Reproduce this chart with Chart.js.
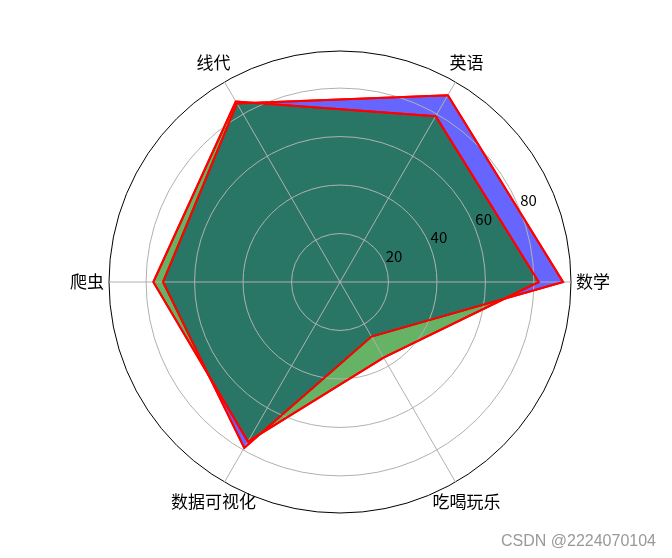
<!DOCTYPE html>
<html>
<head>
<meta charset="utf-8">
<script src="https://cdn.jsdelivr.net/npm/chart.js@4.4.0/dist/chart.umd.min.js"></script>
<style>
  html, body { margin: 0; padding: 0; background: #fff; }
  #wrap { position: relative; width: 672px; height: 558px; }
  #mark { position: absolute; right: 16px; top: 532px; font: 16px "Liberation Sans", sans-serif; color: #999; }
</style>
</head>
<body>
<div id="wrap">
  <canvas id="radar"></canvas>
  <div id="mark">CSDN @2224070104</div>
</div>
<script>
// Subjects in the order they go round the chart (counter-clockwise, starting on the right)
const categories = ['数学', '英语', '线代', '爬虫', '数据可视化', '吃喝玩乐'];
const scoresBlue = [92, 89, 85, 73, 79, 26];
const scoresGreen = [82, 79, 86, 77, 76, 36];
const tickValues = [20, 40, 60, 80];
const radiusMax = 95.3;

// Chart.js walks clockwise, so keep the first item and flip the rest
const clockwise = arr => [arr[0]].concat(arr.slice(1).reverse());

const CJK = '"Noto Sans CJK SC", "Noto Sans", sans-serif';

// Category names, r tick labels and the red outlines on top of the grid
const overlay = {
    id: 'overlay',
    afterDraw(chart) {
        const ctx = chart.ctx;
        const scale = chart.scales.r;
        ctx.save();

        // stroke the outlines again so the grid sits under them
        chart.getSortedVisibleDatasetMetas().slice().reverse().forEach(meta => {
            meta.dataset.draw(ctx, chart.chartArea);
        });

        // category labels, centred a bit outside the frame
        ctx.fillStyle = '#000';
        ctx.font = '17px ' + CJK;
        ctx.textAlign = 'center';
        ctx.textBaseline = 'middle';
        chart.data.labels.forEach((label, i) => {
            const p = scale.getPointPosition(i, scale.drawingArea + 22);
            ctx.fillText(label, p.x, p.y);
        });

        // r tick labels along the 22.5 degree line
        const ang = 22.5 * Math.PI / 180;
        ctx.font = '15px ' + CJK;
        ctx.textAlign = 'left';
        ctx.textBaseline = 'bottom';
        tickValues.forEach(v => {
            const d = scale.getDistanceFromCenterForValue(v);
            ctx.fillText(String(v), scale.xCenter + d * Math.cos(ang) + 1, scale.yCenter - d * Math.sin(ang));
        });

        ctx.restore();
    }
};

new Chart(document.getElementById('radar'), {
    type: 'radar',
    data: {
        labels: clockwise(categories),
        datasets: [
            {
                data: clockwise(scoresBlue),
                backgroundColor: 'rgba(0, 0, 255, 0.6)',
                borderColor: '#ff0000',
                borderWidth: 2,
                pointRadius: 0,
                fill: true,
                order: 2
            },
            {
                data: clockwise(scoresGreen),
                backgroundColor: 'rgba(0, 128, 0, 0.6)',
                borderColor: '#ff0000',
                borderWidth: 2,
                pointRadius: 0,
                fill: true,
                order: 1
            }
        ]
    },
    options: {
        responsive: true,
        maintainAspectRatio: false,
        animation: false,
        layout: { padding: { top: 51, bottom: 45, left: 8, right: 0 } },
        elements: { line: { tension: 0, borderJoinStyle: 'miter' } },
        scales: {
            r: {
                min: 0,
                max: radiusMax,
                startAngle: 90,
                afterBuildTicks: scale => {
                    scale.ticks = [0].concat(tickValues, [radiusMax]).map(v => ({ value: v }));
                },
                ticks: { display: false, z: 1 },
                pointLabels: { display: false },
                angleLines: { color: '#b0b0b0', lineWidth: 1 },
                grid: {
                    z: 1,
                    circular: true,
                    color: c => (c.tick && c.tick.value >= radiusMax) ? '#000000' : '#b0b0b0',
                    lineWidth: 1
                }
            }
        },
        plugins: {
            legend: { display: false },
            tooltip: { enabled: false }
        }
    },
    plugins: [overlay]
});
</script>
</body>
</html>
